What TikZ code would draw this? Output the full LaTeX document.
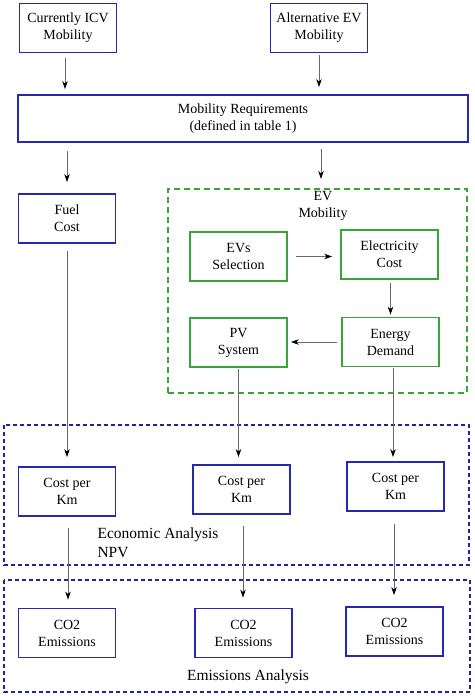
\documentclass[tikz,border=0pt]{standalone}
\usepackage{fontspec}
\setmainfont{Liberation Serif}
\usepackage{tikz}
\usetikzlibrary{arrows.meta}

\definecolor{boxblue}{RGB}{40,40,175}
\definecolor{framblue}{RGB}{35,35,160}
\definecolor{boxgreen}{RGB}{55,165,55}
\definecolor{linegray}{RGB}{105,105,105}

\tikzset{
  bluebox/.style={draw=boxblue, line width=1.8pt, align=center, inner sep=1pt,
    minimum width=97pt, minimum height=49pt, font=\fontsize{14}{17}\selectfont},
  greenbox/.style={bluebox, draw=boxgreen, line width=1.7pt},
  flow/.style={draw=linegray, line width=0.8pt,
    -{Stealth[black, length=8pt, width=5.5pt, inset=2.5pt]}},
  blueframe/.style={draw=framblue, line width=1.9pt, dash pattern=on 4pt off 3pt},
  greenframe/.style={draw=boxgreen, line width=2.1pt, dash pattern=on 6pt off 4pt,
    inner sep=0pt}
}

\begin{document}
\begin{tikzpicture}[x=1pt, y=-1pt]
  \useasboundingbox (0,0) rectangle (474,696);
  \fill[white] (0,0) rectangle (474,696);

  % analysis frames
  \draw[blueframe] (4,425) rectangle (469,565);
  \draw[blueframe] (4,580) rectangle (470,692);
  \node[greenframe, minimum width=299pt, minimum height=204pt] (evframe) at (317.5,291) {};
  \node[align=center, font=\fontsize{14}{17}\selectfont] (evlabel) at (323,206) {EV\\Mobility};

  \node[bluebox] (icv) at (68,28) {Currently ICV\\Mobility};
  \node[bluebox] (alt) at (319,28) {Alternative EV\\Mobility};
  \node[bluebox, minimum width=450pt, minimum height=47pt] (req) at (243,118.5) {Mobility Requirements\\(defined in table 1)};
  \node[bluebox] (fuel) at (67,218.5) {Fuel\\Cost};

  \node[greenbox] (evsel) at (238.5,256.5) {EVs\\Selection};
  \node[greenbox] (elec) at (389.5,254.5) {Electricity\\Cost};
  \node[greenbox] (pv) at (238.5,342.5) {PV\\System};
  \node[greenbox] (energy) at (390.5,342) {Energy\\Demand};

  \node[bluebox] (cost1) at (67,491.5) {Cost per\\Km};
  \node[bluebox] (cost2) at (241.5,489.5) {Cost per\\Km};
  \node[bluebox] (cost3) at (395.5,486.5) {Cost per\\Km};
  \node[anchor=west, align=left, font=\fontsize{15.5}{19}\selectfont] (econ) at (94,543) {Economic Analysis\\NPV};

  \node[bluebox] (co1) at (67,633) {CO2\\Emissions};
  \node[bluebox] (co2) at (243.5,633) {CO2\\Emissions};
  \node[bluebox] (co3) at (394.5,631.5) {CO2\\Emissions};
  \node[font=\fontsize{15.5}{19}\selectfont] (emis) at (248,677) {Emissions Analysis};

  \draw[flow, shorten <=5pt, shorten >=5pt] ([xshift=-3pt]icv.south) -- ([xshift=-3pt]icv.south |- req.north);
  \draw[flow, shorten <=2pt, shorten >=7pt] (alt.south) -- (alt.south |- req.north);
  \draw[flow, shorten <=8pt, shorten >=11pt] (fuel.north |- req.south) -- (fuel.north);
  \draw[flow, shorten <=6pt, shorten >=9pt] ([xshift=2pt]alt.south |- req.south) -- ([xshift=2pt]alt.south |- evframe.north);

  \draw[flow, shorten <=8pt, shorten >=8pt] (evsel.east) -- (evsel.east -| elec.west);
  \draw[flow, shorten <=3pt, shorten >=2pt] ([xshift=1pt]elec.south) -- ([xshift=1pt]elec.south |- energy.north);
  \draw[flow, shorten <=4pt, shorten >=3pt] (energy.west) -- (energy.west -| pv.east);

  \draw[flow, shorten <=7pt, shorten >=9pt] (fuel.south) -- (fuel.south |- cost1.north);
  \draw[flow, shorten <=1pt, shorten >=7pt] (pv.south) -- (pv.south |- cost2.north);
  \draw[flow, shorten <=1pt, shorten >=4pt] ([xshift=2.5pt]energy.south) -- ([xshift=2.5pt]energy.south |- cost3.north);

  \draw[flow, shorten <=11pt, shorten >=8pt] ([xshift=1pt]cost1.south) -- ([xshift=1pt]cost1.south |- co1.north);
  \draw[flow, shorten <=11pt, shorten >=10pt] ([xshift=1.5pt]cost2.south) -- ([xshift=1.5pt]cost2.south |- co2.north);
  \draw[flow, shorten <=12pt, shorten >=11pt] ([xshift=-1.5pt]cost3.south) -- ([xshift=-1.5pt]cost3.south |- co3.north);
\end{tikzpicture}
\end{document}
